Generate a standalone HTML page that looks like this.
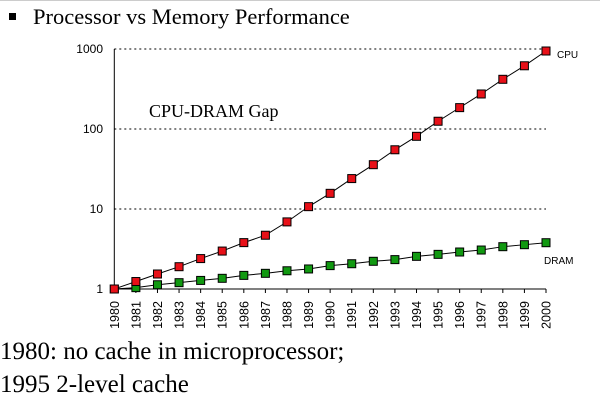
<!DOCTYPE html>
<html><head><meta charset="utf-8"><style>
html,body{margin:0;padding:0;background:#fff;}
body{width:600px;height:403px;overflow:hidden;position:relative;font-family:"Liberation Serif",serif;}
.t{position:absolute;white-space:nowrap;color:#000;}
</style></head><body>
<div style="position:absolute;left:0;top:0;width:600px;height:1px;background:#ccc"></div>
<div style="position:absolute;left:9px;top:13px;width:7px;height:7px;background:#000"></div>
<div class="t" style="left:33px;top:4px;font-size:22.5px;">Processor vs Memory Performance</div>
<svg id="chart" width="600" height="403" style="position:absolute;left:0;top:0" font-family="Liberation Sans, sans-serif"></svg>
<div class="t" style="left:0;top:338px;font-size:25px;">1980: no cache in microprocessor;</div>
<div class="t" style="left:0;top:371px;font-size:25px;">1995 2-level cache</div>
<script>
const years=[1980,1981,1982,1983,1984,1985,1986,1987,1988,1989,1990,1991,1992,1993,1994,1995,1996,1997,1998,1999,2000];
const cpu=[1,1.24,1.54,1.9,2.4,2.98,3.8,4.7,6.9,10.7,15.7,24,35.8,55,81,125,185,274,418,617,944];
const dram=[1,1.04,1.13,1.2,1.28,1.36,1.48,1.57,1.69,1.78,1.96,2.07,2.22,2.33,2.56,2.71,2.9,3.07,3.38,3.58,3.79];
const yTicks=[1,10,100,1000];
const yTickLabels=["1","10","100","1000"];
const svg=document.getElementById('chart');
const NS='http://www.w3.org/2000/svg';
const x0=114.3,x1=546,yb=289,yt=49;
function X(i){return x0+(x1-x0)*i/(years.length-1);}
function Y(v){return yb-(yb-yt)*Math.log10(v)/3;}
function mk(t,a){const e=document.createElementNS(NS,t);for(const k in a)e.setAttribute(k,a[k]);svg.appendChild(e);return e;}
yTicks.forEach((v,i)=>{
  if(i>0){const g=mk('line',{x1:x0,x2:x1,y1:Y(v),y2:Y(v),stroke:'#000','stroke-width':1,'stroke-dasharray':'2,3'});
  
  }
  const t=mk('text',{x:103,y:Y(v)+4,'font-size':12,'text-anchor':'end'});t.textContent=yTickLabels[i];
  
  
});
const ya=mk('line',{x1:x0,x2:x0,y1:yt,y2:yb,stroke:'#000'});


const xa=mk('line',{x1:x0,x2:x1,y1:yb,y2:yb,stroke:'#000'});


years.forEach((y,i)=>{
  const tk=mk('line',{x1:X(i),x2:X(i),y1:yb,y2:yb+4,stroke:'#000'});
  
  
  const t=mk('text',{x:0,y:0,'font-size':12.5,'text-anchor':'middle',transform:`translate(${X(i)+4.5},${315}) rotate(-90)`});
  t.textContent=y;
  
  
});
function series(vals,color,name){
  const p=mk('polyline',{points:vals.map((v,i)=>X(i)+','+Y(v)).join(' '),fill:'none',stroke:'#000','stroke-width':1});
  
  
  vals.forEach((v,i)=>{
    const r=mk('rect',{x:X(i)-4,y:Y(v)-4,width:8,height:8,fill:color,stroke:'#000','stroke-width':1});
    
    
  });
}
series(dram,'#119911','dram');
series(cpu,'#e81018','cpu');
const l1=mk('text',{x:557,y:58,'font-size':10});l1.textContent='CPU';


const l2=mk('text',{x:544,y:264,'font-size':10});l2.textContent='DRAM';


const g=mk('text',{x:149,y:117,'font-size':18,'font-family':'Liberation Serif, serif'});g.textContent='CPU-DRAM Gap';


</script>
</body></html>
